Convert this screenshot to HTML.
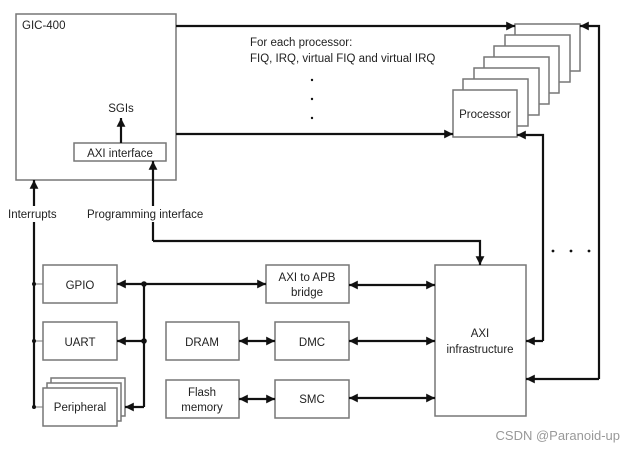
<!DOCTYPE html>
<html><head><meta charset="utf-8"><style>body{margin:0;background:#fff}svg{display:block}text{font-family:"Liberation Sans",Arial,sans-serif;fill:#222}</style></head>
<body>
<svg width="633" height="451" viewBox="0 0 633 451" xmlns="http://www.w3.org/2000/svg">
<defs>
<marker id="a" viewBox="0 0 10 10" refX="10" refY="5" markerWidth="4" markerHeight="4" orient="auto-start-reverse" markerUnits="strokeWidth"><path d="M0,0L10,5L0,10z" fill="#111"/></marker>
</defs>
<g fill="#fff" stroke="#777" stroke-width="1.5">
<rect x="16" y="14" width="160" height="166"/>
<rect x="74" y="143" width="92" height="18"/>
<rect x="515" y="24" width="65" height="47"/>
<rect x="505" y="35" width="65" height="47"/>
<rect x="494" y="46" width="65" height="47"/>
<rect x="484" y="57" width="65" height="47"/>
<rect x="474" y="68" width="65" height="47"/>
<rect x="463" y="79" width="65" height="47"/>
<rect x="453" y="90" width="64" height="47"/>
<rect x="43" y="265" width="74" height="38"/>
<rect x="43" y="322" width="74" height="38"/>
<rect x="51" y="378" width="74" height="38"/>
<rect x="47" y="383" width="74" height="38"/>
<rect x="43" y="388" width="74" height="38"/>
<rect x="266" y="265" width="83" height="38"/>
<rect x="166" y="322" width="73" height="38"/>
<rect x="275" y="322" width="74" height="38"/>
<rect x="166" y="380" width="73" height="38"/>
<rect x="275" y="380" width="74" height="38"/>
<rect x="435" y="265" width="91" height="151"/>
</g>
<g stroke="#111" stroke-width="2.2" fill="none">
<path d="M176 26H515" marker-end="url(#a)"/>
<path d="M176 134H453" marker-end="url(#a)"/>
<path d="M599 379V26H580" marker-end="url(#a)"/>
<path d="M599 379H526" marker-end="url(#a)"/>
<path d="M543 341V135H517" marker-end="url(#a)"/>
<path d="M543 341H526" marker-end="url(#a)"/>
<path d="M121 143V118" marker-end="url(#a)"/>
<path d="M34 407V180" marker-end="url(#a)"/>
<path d="M153 241V161" marker-end="url(#a)"/>
<path d="M153 241H480V265" marker-end="url(#a)"/>
<path d="M144 284V407"/>
<path d="M144 284H117" marker-end="url(#a)"/>
<path d="M144 284H266" marker-end="url(#a)"/>
<path d="M144 341H117" marker-end="url(#a)"/>
<path d="M144 407H125" marker-end="url(#a)"/>
<path d="M349 285H435" marker-start="url(#a)" marker-end="url(#a)"/>
<path d="M349 341H435" marker-start="url(#a)" marker-end="url(#a)"/>
<path d="M349 398H435" marker-start="url(#a)" marker-end="url(#a)"/>
<path d="M239 341H275" marker-start="url(#a)" marker-end="url(#a)"/>
<path d="M239 399H275" marker-start="url(#a)" marker-end="url(#a)"/>
</g>
<g stroke="#777" stroke-width="1"><path d="M34 284H43M34 341H43M34 407H43"/></g>
<g fill="#111">
<circle cx="144" cy="284" r="2.8"/><circle cx="144" cy="341" r="2.8"/>
<circle cx="34" cy="284" r="2"/><circle cx="34" cy="341" r="2"/><circle cx="34" cy="407" r="2"/>
<circle cx="553" cy="251" r="1.4"/><circle cx="571" cy="251" r="1.4"/><circle cx="589" cy="251" r="1.4"/>
<circle cx="312" cy="80" r="1.2"/><circle cx="312" cy="99" r="1.2"/><circle cx="312" cy="118" r="1.2"/>
</g>
<rect x="6" y="206" width="54" height="16" fill="#fff"/>
<rect x="85" y="206" width="132" height="16" fill="#fff"/>
<g font-size="11.5">
<text x="22" y="29">GIC-400</text>
<text x="121" y="112" text-anchor="middle">SGIs</text>
<text x="120" y="157" text-anchor="middle">AXI interface</text>
<text x="250" y="46">For each processor:</text>
<text x="250" y="62">FIQ, IRQ, virtual FIQ and virtual IRQ</text>
<text x="485" y="118" text-anchor="middle">Processor</text>
<text x="8" y="218">Interrupts</text>
<text x="87" y="218">Programming interface</text>
<text x="80" y="289" text-anchor="middle">GPIO</text>
<text x="80" y="346" text-anchor="middle">UART</text>
<text x="80" y="411" text-anchor="middle">Peripheral</text>
<text x="307" y="281" text-anchor="middle">AXI to APB</text>
<text x="307" y="296" text-anchor="middle">bridge</text>
<text x="202" y="346" text-anchor="middle">DRAM</text>
<text x="312" y="346" text-anchor="middle">DMC</text>
<text x="202" y="396" text-anchor="middle">Flash</text>
<text x="202" y="411" text-anchor="middle">memory</text>
<text x="312" y="403" text-anchor="middle">SMC</text>
<text x="480" y="337" text-anchor="middle">AXI</text>
<text x="480" y="353" text-anchor="middle">infrastructure</text>
</g>
<text x="620" y="440" text-anchor="end" font-size="13" style="fill:#999">CSDN @Paranoid-up</text>
</svg>
</body></html>
